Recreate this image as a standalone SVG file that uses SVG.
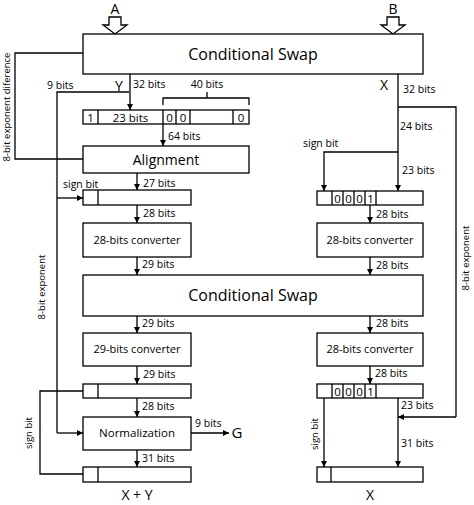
<svg xmlns="http://www.w3.org/2000/svg" width="474" height="505" viewBox="0 0 474 505">
<defs>
<marker id="ah" viewBox="0 0 10 10" refX="10" refY="5" markerWidth="6" markerHeight="6" markerUnits="userSpaceOnUse" orient="auto">
<path d="M0,0 L10,5 L0,10 z" fill="#000"/>
</marker>
<style>
.box{fill:#fff;stroke:#000;stroke-width:1.3}
.ln{fill:none;stroke:#000;stroke-width:1.3}
.ar{fill:none;stroke:#000;stroke-width:1.3;marker-end:url(#ah)}
text{font-family:"Open Sans","Liberation Sans",sans-serif;fill:#000}
.lb{font-size:10.5px}
.big{font-size:16px;text-anchor:middle}
.cv{font-size:11px;text-anchor:middle}
.io{font-size:14px;text-anchor:middle}
.rc{font-size:11.5px;text-anchor:middle}
.rot{font-size:9.5px;text-anchor:middle}
</style>
</defs>
<rect width="474" height="505" style="fill:#fff;stroke:none"/>

<g id="connectors">
<path class="box" d="M109,17 H121 V25 H127 L115,34 L103,25 H109 Z"/>
<path class="box" d="M387,17 H399 V25 H405 L393,34 L381,25 H387 Z"/>
<path class="ln" d="M83,53 H15 V159 H83"/>
<path class="ar" d="M130,74 V110"/>
<path class="ln" d="M129,92 H57 V433"/>
<path class="ar" d="M57,198 H83"/>
<path class="ar" d="M57,433 H83"/>
<path class="ln" d="M163,105 V98 H249 V105 M207,98 V92"/>
<path class="ar" d="M163,124 V146"/>
<path class="ar" d="M137,173 V190"/>
<path class="ar" d="M137,205 V223"/>
<path class="ar" d="M137,257 V275"/>
<path class="ar" d="M137,316 V333"/>
<path class="ar" d="M137,366 V384"/>
<path class="ar" d="M137,398 V417"/>
<path class="ar" d="M191,433 H229"/>
<path class="ar" d="M137,450 V467"/>
<path class="ln" d="M83,391 H40 V474 H83"/>
<path class="ar" d="M398,74 V191"/>
<path class="ln" d="M398,107 H456 V417"/>
<path class="ar" d="M456,417 H398"/>
<path class="ar" d="M398,152 H324 V191"/>
<path class="ar" d="M370,205 V223"/>
<path class="ar" d="M370,257 V275"/>
<path class="ar" d="M370,316 V333"/>
<path class="ar" d="M370,366 V384"/>
<path class="ar" d="M324,398 V467"/>
<path class="ar" d="M398,398 V467"/>
</g>

<g id="inputs">
<text class="io" x="115" y="14">A</text>
<text class="io" x="393" y="14">B</text>
</g>

<g id="swap1">
<rect class="box" x="83" y="34" width="340" height="40"/>
<text class="big" x="253" y="60">Conditional Swap</text>
<text class="io" x="119" y="91">Y</text>
<text class="io" x="384" y="90">X</text>
</g>

<g id="regY">
<rect class="box" x="83" y="110" width="166" height="14"/>
<path class="ln" d="M98,110 V124 M163,110 V124 M176,110 V124 M190,110 V124 M233,110 V124"/>
<text class="rc" x="90.5" y="121.5">1</text>
<text class="rc" x="130.5" y="121.5">23 bits</text>
<text class="rc" x="169.5" y="121.5">0</text>
<text class="rc" x="183" y="121.5">0</text>
<text class="rc" x="241" y="121.5">0</text>
</g>

<g id="alignment">
<rect class="box" x="83" y="146" width="166" height="27"/>
<text class="big" x="166" y="165" style="font-size:14px">Alignment</text>
</g>

<g id="regL1">
<rect class="box" x="83" y="190" width="108" height="15"/>
<path class="ln" d="M98,190 V205"/>
</g>
<g id="conv28L">
<rect class="box" x="83" y="223" width="108" height="34"/>
<text class="cv" x="137" y="244">28-bits converter</text>
</g>

<g id="regR1">
<rect class="box" x="317" y="191" width="106" height="14"/>
<path class="ln" d="M332,191 V205 M343,191 V205 M354,191 V205 M365,191 V205 M376,191 V205"/>
<text class="rc" x="337.5" y="202.5">0</text>
<text class="rc" x="348.5" y="202.5">0</text>
<text class="rc" x="359.5" y="202.5">0</text>
<text class="rc" x="370.5" y="202.5">1</text>
</g>
<g id="conv28R">
<rect class="box" x="317" y="223" width="106" height="34"/>
<text class="cv" x="370" y="244">28-bits converter</text>
</g>

<g id="swap2">
<rect class="box" x="83" y="275" width="340" height="41"/>
<text class="big" x="253" y="301">Conditional Swap</text>
</g>

<g id="conv29L">
<rect class="box" x="83" y="333" width="108" height="33"/>
<text class="cv" x="137" y="353">29-bits converter</text>
</g>
<g id="conv28R2">
<rect class="box" x="317" y="333" width="106" height="33"/>
<text class="cv" x="370" y="353">28-bits converter</text>
</g>

<g id="regL2">
<rect class="box" x="83" y="384" width="108" height="14"/>
<path class="ln" d="M98,384 V398"/>
</g>
<g id="regR2">
<rect class="box" x="317" y="384" width="106" height="14"/>
<path class="ln" d="M332,384 V398 M343,384 V398 M354,384 V398 M365,384 V398 M376,384 V398"/>
<text class="rc" x="337.5" y="395.5">0</text>
<text class="rc" x="348.5" y="395.5">0</text>
<text class="rc" x="359.5" y="395.5">0</text>
<text class="rc" x="370.5" y="395.5">1</text>
</g>

<g id="normalization">
<rect class="box" x="83" y="417" width="108" height="33"/>
<text class="cv" x="137" y="437" style="font-size:11.5px">Normalization</text>
<text class="io" x="237" y="438" style="font-size:15px">G</text>
</g>

<g id="outL">
<rect class="box" x="83" y="467" width="108" height="15"/>
<path class="ln" d="M98,467 V482"/>
<text class="io" x="137" y="500">X + Y</text>
</g>
<g id="outR">
<rect class="box" x="317" y="467" width="106" height="15"/>
<path class="ln" d="M331,467 V482"/>
<text class="io" x="370" y="500">X</text>
</g>

<g id="labels">
<text class="lb" x="133" y="88">32 bits</text>
<text class="lb" x="47" y="89">9 bits</text>
<text class="lb" x="207" y="88" text-anchor="middle">40 bits</text>
<text class="lb" x="168" y="140">64 bits</text>
<text class="lb" x="143" y="187">27 bits</text>
<text class="lb" x="63" y="188">sign bit</text>
<text class="lb" x="143" y="217">28 bits</text>
<text class="lb" x="142" y="268">29 bits</text>
<text class="lb" x="142" y="327">29 bits</text>
<text class="lb" x="143" y="378">29 bits</text>
<text class="lb" x="142" y="410">28 bits</text>
<text class="lb" x="195" y="427">9 bits</text>
<text class="lb" x="142" y="462">31 bits</text>
<text class="lb" x="403" y="93">32 bits</text>
<text class="lb" x="400" y="130">24 bits</text>
<text class="lb" x="303" y="147">sign bit</text>
<text class="lb" x="402" y="174">23 bits</text>
<text class="lb" x="376" y="218">28 bits</text>
<text class="lb" x="376" y="269">28 bits</text>
<text class="lb" x="376" y="327">28 bits</text>
<text class="lb" x="375" y="377">28 bits</text>
<text class="lb" x="401" y="409">23 bits</text>
<text class="lb" x="401" y="447">31 bits</text>
<text class="rot" transform="translate(10,107) rotate(-90)">8-bit exponent diference</text>
<text class="rot" transform="translate(45,287) rotate(-90)">8-bit exponent</text>
<text class="rot" transform="translate(32,433) rotate(-90)">sign bit</text>
<text class="rot" transform="translate(469,258) rotate(-90)">8-bit exponent</text>
<text class="rot" transform="translate(318,434) rotate(-90)">sign bit</text>
</g>
</svg>
